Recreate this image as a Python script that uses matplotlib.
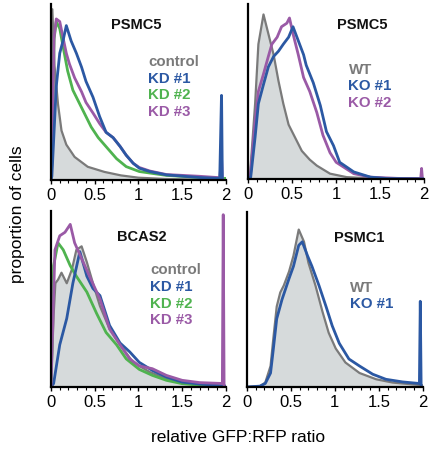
import matplotlib.pyplot as plt
from matplotlib.ticker import MultipleLocator

plt.rcParams['font.family'] = ['Liberation Sans', 'DejaVu Sans']

# colours of the conditions
GRAY = '#7a7a7a'
FILL = '#d6dadb'
BLUE = '#2b58a3'
GREEN = '#4fb34f'
PURPLE = '#9a5aa6'

# ---- panel A: PSMC5 knock-down ----
a_ctrl_x = [0, 0.015, 0.04, 0.08, 0.12, 0.175, 0.27, 0.42, 0.61, 0.8, 1.0, 1.3, 1.6, 2.0]
a_ctrl_y = [0, 0.97, 0.65, 0.43, 0.28, 0.20, 0.13, 0.074, 0.045, 0.025, 0.012, 0.005, 0.002, 0]
a_kd1_x = [0, 0.01, 0.06, 0.1, 0.137, 0.175, 0.23, 0.29, 0.35, 0.40, 0.48, 0.556, 0.63, 0.71,
           0.79, 0.86, 0.94, 1.01, 1.13, 1.32, 1.7, 1.93, 1.95, 1.951, 1.96]
a_kd1_y = [0, 0.02, 0.53, 0.72, 0.79, 0.877, 0.79, 0.72, 0.64, 0.56, 0.47, 0.36, 0.27, 0.24,
           0.19, 0.14, 0.094, 0.066, 0.047, 0.028, 0.013, 0.008, 0.48, 0.48, 0]
a_kd2_x = [0, 0.01, 0.035, 0.06, 0.1, 0.137, 0.19, 0.25, 0.31, 0.385, 0.46, 0.54, 0.61, 0.75,
           0.86, 1.01, 1.32, 1.7, 2.0]
a_kd2_y = [0, 0.1, 0.8, 0.9, 0.86, 0.76, 0.62, 0.51, 0.45, 0.375, 0.30, 0.24, 0.20, 0.12,
           0.075, 0.047, 0.025, 0.013, 0.008]
a_kd3_x = [0, 0.01, 0.035, 0.06, 0.1, 0.137, 0.175, 0.21, 0.27, 0.35, 0.40, 0.48, 0.556, 0.63,
           0.71, 0.79, 0.86, 0.94, 1.01, 1.13, 1.32, 1.7, 1.93, 1.95, 1.951, 1.96]
a_kd3_y = [0, 0.1, 0.81, 0.915, 0.90, 0.81, 0.72, 0.66, 0.58, 0.50, 0.44, 0.38, 0.32, 0.27,
           0.24, 0.19, 0.14, 0.094, 0.07, 0.05, 0.03, 0.02, 0.012, 0.12, 0.12, 0]

# ---- panel B: PSMC5 knock-out ----
b_wt_x = [0, 0.02, 0.08, 0.117, 0.175, 0.23, 0.29, 0.345, 0.40, 0.46, 0.53, 0.61, 0.70, 0.78,
          0.93, 1.12, 1.4, 2.0]
b_wt_y = [0, 0.01, 0.43, 0.77, 0.94, 0.83, 0.71, 0.56, 0.43, 0.31, 0.24, 0.16, 0.11, 0.076,
          0.03, 0.01, 0.003, 0]
b_ko1_x = [0, 0.03, 0.08, 0.117, 0.175, 0.23, 0.29, 0.345, 0.40, 0.46, 0.51, 0.57, 0.63, 0.66,
           0.74, 0.82, 0.89, 0.97, 1.04, 1.2, 1.39, 1.58, 2.0]
b_ko1_y = [0, 0.01, 0.24, 0.43, 0.54, 0.64, 0.70, 0.73, 0.77, 0.81, 0.87, 0.79, 0.71, 0.65,
           0.55, 0.42, 0.27, 0.19, 0.095, 0.04, 0.01, 0.002, 0]
b_ko2_x = [0, 0.03, 0.08, 0.117, 0.175, 0.23, 0.27, 0.33, 0.38, 0.44, 0.47, 0.51, 0.57, 0.63,
           0.70, 0.78, 0.85, 0.93, 1.0, 1.2, 1.39, 1.7, 1.96, 1.97, 1.98]
b_ko2_y = [0, 0.04, 0.33, 0.50, 0.60, 0.70, 0.77, 0.81, 0.87, 0.89, 0.92, 0.83, 0.71, 0.58,
           0.50, 0.38, 0.25, 0.15, 0.095, 0.03, 0.01, 0.003, 0.002, 0.06, 0]

# ---- panel C: BCAS2 knock-down ----
c_ctrl_x = [0, 0.03, 0.05, 0.08, 0.12, 0.18, 0.24, 0.29, 0.35, 0.41, 0.48, 0.56, 0.67, 0.79,
            0.94, 1.13, 1.32, 1.5, 1.7, 2.0]
c_ctrl_y = [0, 0.41, 0.59, 0.61, 0.65, 0.59, 0.67, 0.78, 0.80, 0.71, 0.59, 0.46, 0.33, 0.24,
            0.14, 0.085, 0.047, 0.028, 0.015, 0.005]
c_kd1_x = [0, 0.03, 0.1, 0.18, 0.25, 0.33, 0.41, 0.48, 0.56, 0.67, 0.79, 0.90, 1.01, 1.16,
           1.32, 1.5, 1.7, 2.0]
c_kd1_y = [0, 0.02, 0.24, 0.39, 0.59, 0.77, 0.63, 0.56, 0.52, 0.35, 0.25, 0.20, 0.14, 0.094,
           0.057, 0.028, 0.017, 0.005]
c_kd2_x = [0, 0.03, 0.08, 0.14, 0.22, 0.29, 0.41, 0.52, 0.63, 0.75, 0.86, 1.01, 1.16, 1.32,
           1.5, 1.7, 2.0]
c_kd2_y = [0, 0.69, 0.82, 0.78, 0.69, 0.63, 0.54, 0.42, 0.31, 0.24, 0.16, 0.10, 0.066, 0.038,
           0.019, 0.01, 0.004]
c_kd3_x = [0, 0.045, 0.1, 0.16, 0.22, 0.27, 0.35, 0.44, 0.56, 0.67, 0.79, 0.90, 1.01, 1.16,
           1.32, 1.5, 1.7, 1.96, 1.97, 1.98]
c_kd3_y = [0, 0.78, 0.86, 0.88, 0.925, 0.82, 0.73, 0.63, 0.50, 0.33, 0.24, 0.16, 0.12, 0.104,
           0.066, 0.038, 0.025, 0.02, 0.98, 0]

# ---- panel D: PSMC1 knock-out ----
d_wt_x = [0, 0.15, 0.21, 0.27, 0.30, 0.34, 0.38, 0.42, 0.48, 0.53, 0.59, 0.65, 0.70, 0.78,
          0.86, 0.93, 1.01, 1.12, 1.28, 1.47, 1.66, 1.88, 2.0]
d_wt_y = [0, 0.005, 0.025, 0.12, 0.27, 0.46, 0.54, 0.58, 0.66, 0.75, 0.90, 0.83, 0.71, 0.58,
          0.43, 0.31, 0.22, 0.14, 0.08, 0.044, 0.025, 0.015, 0.01]
d_ko1_x = [0, 0.15, 0.21, 0.27, 0.30, 0.34, 0.40, 0.48, 0.53, 0.59, 0.63, 0.69, 0.74, 0.82,
           0.90, 0.97, 1.05, 1.16, 1.28, 1.43, 1.58, 1.77, 1.96, 1.97, 1.98]
d_ko1_y = [0, 0.005, 0.02, 0.08, 0.21, 0.39, 0.50, 0.62, 0.69, 0.81, 0.83, 0.75, 0.69, 0.58,
           0.46, 0.35, 0.25, 0.16, 0.12, 0.073, 0.044, 0.029, 0.02, 0.49, 0]

panels = [
    # (axes rect, title, title pos, legend pos, fill curve, lines, legend entries)
    ([0.117, 0.600, 0.401, 0.389], 'PSMC5', (0.49, 0.886), (0.555, 0.676),
     (a_ctrl_x, a_ctrl_y),
     [(a_ctrl_x, a_ctrl_y, GRAY), (a_kd2_x, a_kd2_y, GREEN),
      (a_kd3_x, a_kd3_y, PURPLE), (a_kd1_x, a_kd1_y, BLUE)],
     [('control', GRAY), ('KD #1', BLUE), ('KD #2', GREEN), ('KD #3', PURPLE)]),
    ([0.569, 0.602, 0.404, 0.387], 'PSMC5', (0.65, 0.886), (0.57, 0.63),
     (b_wt_x, b_wt_y),
     [(b_wt_x, b_wt_y, GRAY), (b_ko2_x, b_ko2_y, PURPLE), (b_ko1_x, b_ko1_y, BLUE)],
     [('WT', GRAY), ('KO #1', BLUE), ('KO #2', PURPLE)]),
    ([0.117, 0.1416, 0.401, 0.389], 'BCAS2', (0.52, 0.858), (0.566, 0.67),
     (c_ctrl_x, c_ctrl_y),
     [(c_ctrl_x, c_ctrl_y, GRAY), (c_kd2_x, c_kd2_y, GREEN),
      (c_kd1_x, c_kd1_y, BLUE), (c_kd3_x, c_kd3_y, PURPLE)],
     [('control', GRAY), ('KD #1', BLUE), ('KD #2', GREEN), ('KD #3', PURPLE)]),
    ([0.566, 0.1416, 0.404, 0.387], 'PSMC1', (0.64, 0.858), (0.585, 0.574),
     (d_wt_x, d_wt_y),
     [(d_wt_x, d_wt_y, GRAY), (d_ko1_x, d_ko1_y, BLUE)],
     [('WT', GRAY), ('KO #1', BLUE)]),
]

fig = plt.figure(figsize=(4.36, 4.52), dpi=100)

for rect, title, tpos, lpos, fill, lines, entries in panels:
    ax = fig.add_axes(rect)
    ax.fill_between(fill[0], fill[1], color=FILL, lw=0)
    for xs, ys, c in lines:
        lw = 1.6 if c == GRAY else 2.0
        ax.plot(xs, ys, color=c, lw=lw, solid_joinstyle='round')
    ax.set_xlim(0, 2)
    ax.set_ylim(0, 1.0)
    ax.set_yticks([])
    ax.xaxis.set_major_locator(MultipleLocator(0.5))
    ax.xaxis.set_minor_locator(MultipleLocator(0.1))
    ax.set_xticks([0, 0.5, 1, 1.5, 2])
    ax.set_xticklabels(['0', '0.5', '1', '1.5', '2'])
    ax.tick_params(axis='x', which='major', length=3, width=1, pad=2, labelsize=12)
    ax.tick_params(axis='x', which='minor', length=2, width=0.8)
    for s in ['top', 'right']:
        ax.spines[s].set_visible(False)
    for s in ['left', 'bottom']:
        ax.spines[s].set_linewidth(1.6)
    ax.text(tpos[0], tpos[1], title, transform=ax.transAxes, ha='center', va='center',
            fontsize=10.5, fontweight='bold', color='#111111')
    for i, (label, c) in enumerate(entries):
        ax.text(lpos[0], lpos[1] - i * 0.095, label, transform=ax.transAxes,
                ha='left', va='center', fontsize=10.8, fontweight='bold', color=c)

fig.text(0.04, 0.527, 'proportion of cells', rotation=90, ha='center', va='center',
         fontsize=12.5)
fig.text(0.545, 0.033, 'relative GFP:RFP ratio', ha='center', va='center', fontsize=12.5)

fig.savefig('out.png', dpi=100)
